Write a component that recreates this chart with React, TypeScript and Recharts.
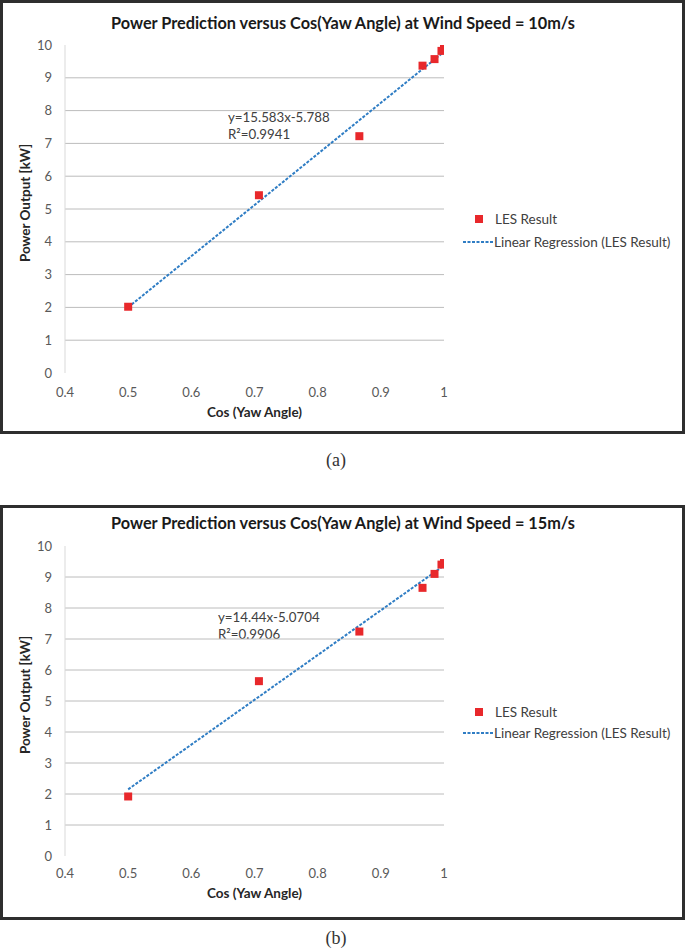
import React from 'react';
import { ScatterChart, Scatter, XAxis, YAxis, ReferenceLine } from 'recharts';

// ---- data ----
const cosYawAngle = [0.5, 0.707, 0.866, 0.966, 0.985, 0.996, 1.0];
const lesPower10 = [2.02, 5.42, 7.22, 9.37, 9.57, 9.82, 9.88];
const lesPower15 = [1.92, 5.64, 7.24, 8.65, 9.1, 9.4, 9.45];
const windSpeeds = [10, 15];
const fitSlope = [15.583, 14.44];
const fitIntercept = [-5.788, -5.0704];
const fitSlopeText = ['15.583', '14.44'];
const fitInterceptText = ['5.788', '5.0704'];
const fitR2Text = ['0.9941', '0.9906'];
const fitRange = [0.5, 1.0];
const xTicks = [0.4, 0.5, 0.6, 0.7, 0.8, 0.9, 1.0];
const yTicks = [0, 1, 2, 3, 4, 5, 6, 7, 8, 9, 10];
const gridValues = [1, 2, 3, 4, 5, 6, 7, 8, 9];
const captions = ['(a)', '(b)'];
const powerSeries = [lesPower10, lesPower15];

const FONT = "Lato, 'Open Sans', sans-serif";
const RED = '#e8282b';
const BLUE = '#2f7dc4';

const panels = [
  { boxTop: 0, boxHeight: 434, plotTop: 42, plotBottomGap: 58, titleY: 19, tickGap: 15, xTitleGap: 39, legendY: 216, legendGap: 23, eqX: 225, eqY: 114, captionY: 460 },
  { boxTop: 505, boxHeight: 415, plotTop: 38, plotBottomGap: 61, titleY: 14, tickGap: 13, xTitleGap: 37, legendY: 204, legendGap: 21, eqX: 215, eqY: 109, captionY: 938 },
];

const Square = (p: any) => (
  <rect x={p.cx - 4} y={p.cy - 4} width={8} height={8} fill={RED} />
);
const NoShape = () => <g />;

function Panel({ idx }: { idx: number }) {
  const cfg = panels[idx];
  const W = 685 - 6;
  const H = cfg.boxHeight - 6;
  const points = cosYawAngle.map((x, i) => ({ x, y: powerSeries[idx][i] }));
  const fit = fitRange.map((x) => ({ x, y: fitSlope[idx] * x + fitIntercept[idx] }));
  const plotLeft = 62;
  const plotRight = 441;
  const plotBottom = H - cfg.plotBottomGap;
  const plotMidX = (plotLeft + plotRight) / 2;
  const plotMidY = (cfg.plotTop + plotBottom) / 2;
  const legX = 460;
  return (
    <>
      <div
        style={{
          position: 'absolute',
          left: 0,
          top: cfg.boxTop,
          width: 685,
          height: cfg.boxHeight,
          boxSizing: 'border-box',
          border: '3px solid #2e2e2e',
          background: '#fff',
        }}
      >
        <ScatterChart
          width={W}
          height={H}
          margin={{ top: cfg.plotTop, right: W - plotRight, bottom: cfg.plotBottomGap - 30, left: plotLeft - 40 }}
        >
          <XAxis
            type="number"
            dataKey="x"
            domain={[0.4, 1]}
            ticks={xTicks}
            tickFormatter={(v: number) => String(Math.round(v * 10) / 10)}
            axisLine={false}
            tickLine={false}
            tickSize={0}
            tickMargin={cfg.tickGap}
            height={30}
            allowDataOverflow
            tick={{ fill: '#595959', fontSize: 13, fontFamily: FONT }}
          />
          <YAxis
            type="number"
            dataKey="y"
            domain={[0, 10]}
            ticks={yTicks}
            axisLine={{ stroke: '#d9d9d9' }}
            tickLine={false}
            tickSize={0}
            tickMargin={13}
            width={40}
            allowDataOverflow
            tick={{ fill: '#595959', fontSize: 13, fontFamily: FONT }}
          />
          {gridValues.map((v) => (
            <ReferenceLine key={v} y={v} stroke="#bcbcbc" strokeWidth={1} />
          ))}
          <Scatter
            data={fit}
            shape={NoShape}
            line={{ stroke: BLUE, strokeWidth: 2, strokeDasharray: '3 1.5' }}
            isAnimationActive={false}
          />
          <Scatter data={points} shape={Square} isAnimationActive={false} />
          <text x={340} y={cfg.titleY} textAnchor="middle" dominantBaseline="central" fontFamily={FONT} fontWeight={700} fontSize={16.3} fill="#1a1a1a">
            {`Power Prediction versus Cos(Yaw Angle) at Wind Speed = ${windSpeeds[idx]}m/s`}
          </text>
          <text x={plotMidX} y={plotBottom + cfg.xTitleGap} textAnchor="middle" dominantBaseline="central" fontFamily={FONT} fontWeight={700} fontSize={13.5} fill="#262626">
            Cos (Yaw Angle)
          </text>
          <text
            x={22}
            y={plotMidY - 6}
            textAnchor="middle"
            dominantBaseline="central"
            fontFamily={FONT}
            fontWeight={700}
            fontSize={13.5}
            fill="#262626"
            transform={`rotate(-90 22 ${plotMidY - 6})`}
          >
            Power Output [kW]
          </text>
          <text x={cfg.eqX} y={cfg.eqY} dominantBaseline="central" fontFamily={FONT} fontSize={13.3} fill="#404040">
            {`y=${fitSlopeText[idx]}x-${fitInterceptText[idx]}`}
          </text>
          <text x={cfg.eqX} y={cfg.eqY + 17} dominantBaseline="central" fontFamily={FONT} fontSize={13.3} fill="#404040">
            {`R²=${fitR2Text[idx]}`}
          </text>
          <rect x={476 - 4} y={cfg.legendY - 4} width={8} height={8} fill={RED} />
          <text x={492} y={cfg.legendY} dominantBaseline="central" fontFamily={FONT} fontSize={13.5} fill="#404040">
            LES Result
          </text>
          <line x1={legX} x2={490} y1={cfg.legendY + cfg.legendGap} y2={cfg.legendY + cfg.legendGap} stroke={BLUE} strokeWidth={2} strokeDasharray="3 1.5" />
          <text x={491} y={cfg.legendY + cfg.legendGap} dominantBaseline="central" fontFamily={FONT} fontSize={13.5} fill="#404040">
            Linear Regression (LES Result)
          </text>
        </ScatterChart>
      </div>
      <div
        style={{
          position: 'absolute',
          left: 0,
          width: 672,
          top: cfg.captionY - 11,
          height: 22,
          lineHeight: '22px',
          textAlign: 'center',
          fontFamily: "'Liberation Serif', 'DejaVu Serif', serif",
          fontSize: 18,
          color: '#333',
        }}
      >
        {captions[idx]}
      </div>
    </>
  );
}

export default function App() {
  return (
    <div style={{ position: 'absolute', left: 0, top: 0, width: 685, height: 951, background: '#fff' }}>
      <Panel idx={0} />
      <Panel idx={1} />
    </div>
  );
}
